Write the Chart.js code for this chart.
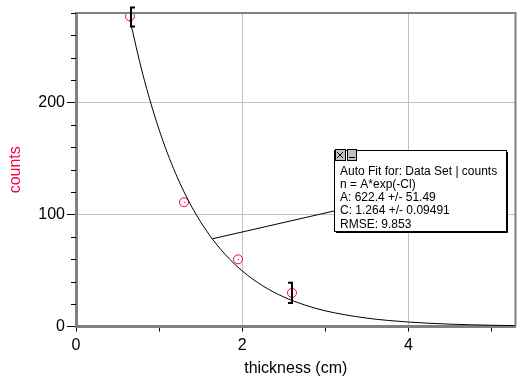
<!DOCTYPE html>
<html>
<head>
<meta charset="utf-8">
<script src="https://cdn.jsdelivr.net/npm/chart.js@4.4.0/dist/chart.umd.min.js"></script>
<style>
  html, body { margin: 0; padding: 0; background: #fff; }
</style>
</head>
<body>
<canvas id="counts" width="521" height="380"></canvas>
<script>
// measured points
const thickness = [0.65, 1.3, 1.95, 2.6];
const counts = [277, 111, 60, 30];

// fit curve
const fitX = [0.65, 0.8, 1.0, 1.2, 1.4, 1.6, 1.8, 2.0, 2.25, 2.5, 2.75, 3.0, 3.5, 4.0, 4.5, 5.0, 5.29];
const fitY = [273.7, 226.4, 175.8, 136.5, 106.0, 82.4, 64.0, 49.7, 36.2, 26.4, 19.3, 14.0, 7.5, 4.0, 2.1, 1.1, 0.8];

// fit range brackets
const rangeX = [0.65, 2.6];
const rangeLow = [268, 21];
const rangeHigh = [285, 39];
const rangeSide = [1, -1];

const xTicks = [0, 1, 2, 3, 4, 5];
const xLabels = [0, 2, 4];
const yTicks = [0, 20, 40, 60, 80, 100, 120, 140, 160, 180, 200, 220, 240, 260, 280];
const yLabels = [0, 100, 200];

const fitText = [
  "Auto Fit for: Data Set | counts",
  "n = A*exp(-Cl)",
  "A: 622.4 +/- 51.49",
  "C: 1.264 +/- 0.09491",
  "RMSE: 9.853"
];
const leaderPoint = [1.64, 78.3];

const FONT = '"Liberation Sans", Arial, sans-serif';
const RED = '#ff0040';

const extras = {
  id: 'extras',
  afterDatasetsDraw(chart) {
    const { ctx, chartArea: a, scales: { x, y } } = chart;
    ctx.save();

    // top + right frame
    ctx.strokeStyle = '#808080';
    ctx.lineWidth = 2;
    ctx.beginPath();
    ctx.moveTo(a.left, a.top);
    ctx.lineTo(a.right, a.top);
    ctx.lineTo(a.right, a.bottom);
    ctx.stroke();

    // short minor ticks on y
    ctx.strokeStyle = '#000';
    ctx.lineWidth = 1;
    yTicks.forEach(v => {
      if (yLabels.includes(v)) return;
      const py = Math.round(y.getPixelForValue(v)) + 0.5;
      ctx.beginPath();
      ctx.moveTo(a.left - 5, py);
      ctx.lineTo(a.left, py);
      ctx.stroke();
    });

    // dots in the middle of the circles
    ctx.fillStyle = RED;
    thickness.forEach((v, i) => {
      ctx.fillRect(Math.round(x.getPixelForValue(v)), Math.round(y.getPixelForValue(counts[i])), 1, 1);
    });

    // range brackets
    ctx.strokeStyle = '#000';
    ctx.lineWidth = 2;
    rangeX.forEach((v, i) => {
      const px = Math.round(x.getPixelForValue(v)) + (rangeSide[i] > 0 ? 1 : 0);
      const y1 = y.getPixelForValue(rangeHigh[i]);
      const y2 = y.getPixelForValue(rangeLow[i]);
      const s = 4 * rangeSide[i];
      ctx.beginPath();
      ctx.moveTo(px + s, y1);
      ctx.lineTo(px, y1);
      ctx.lineTo(px, y2);
      ctx.lineTo(px + s, y2);
      ctx.stroke();
    });

    // fit info box
    const bx = 334, by = 150, bw = 172, bh = 81;
    ctx.lineWidth = 1;
    ctx.beginPath();
    ctx.moveTo(x.getPixelForValue(leaderPoint[0]), y.getPixelForValue(leaderPoint[1]));
    ctx.lineTo(bx, 211);
    ctx.stroke();

    ctx.fillStyle = '#fff';
    ctx.fillRect(bx, by, bw, bh);
    ctx.strokeRect(bx + 0.5, by + 0.5, bw, bh);
    ctx.beginPath();
    ctx.moveTo(bx + bw + 1.5, by + 2);
    ctx.lineTo(bx + bw + 1.5, by + bh + 1.5);
    ctx.lineTo(bx + 2, by + bh + 1.5);
    ctx.stroke();

    // close / minimise buttons
    ctx.fillStyle = '#c0c0c0';
    ctx.fillRect(335, 149, 10, 11);
    ctx.strokeRect(335.5, 149.5, 10, 11);
    ctx.fillRect(347, 149, 9, 11);
    ctx.strokeRect(347.5, 149.5, 9, 11);
    ctx.beginPath();
    ctx.moveTo(337, 152); ctx.lineTo(343, 158);
    ctx.moveTo(343, 152); ctx.lineTo(337, 158);
    ctx.moveTo(349, 157.5); ctx.lineTo(355, 157.5);
    ctx.stroke();

    ctx.fillStyle = '#000';
    ctx.font = '12px ' + FONT;
    ctx.textBaseline = 'alphabetic';
    ctx.textAlign = 'left';
    fitText.forEach((t, i) => ctx.fillText(t, 340, 174.5 + i * 13.3));

    ctx.restore();
  }
};

new Chart(document.getElementById('counts'), {
  type: 'scatter',
  data: {
    datasets: [
      {
        data: fitX.map((v, i) => ({ x: v, y: fitY[i] })),
        showLine: true,
        borderColor: '#000',
        borderWidth: 1,
        pointRadius: 0,
        cubicInterpolationMode: 'monotone',
        fill: false
      },
      {
        data: thickness.map((v, i) => ({ x: v, y: counts[i] })),
        showLine: false,
        borderColor: RED,
        backgroundColor: 'rgba(0,0,0,0)',
        borderWidth: 1,
        pointRadius: 4.5
      }
    ]
  },
  options: {
    responsive: false,
    animation: false,
    layout: { padding: { top: 13, right: 5, left: 0, bottom: 0 } },
    plugins: { legend: { display: false }, tooltip: { enabled: false } },
    scales: {
      x: {
        type: 'linear',
        min: 0,
        max: 5.29,
        afterBuildTicks: s => { s.ticks = xTicks.map(v => ({ value: v })); },
        afterFit: s => { s.height = 53.5; },
        ticks: {
          callback: v => xLabels.includes(v) ? String(v) : '',
          color: '#000',
          font: { family: FONT, size: 16 },
          padding: 4,
          maxRotation: 0
        },
        grid: {
          color: c => c.tick && (c.tick.value === 2 || c.tick.value === 4) ? '#c0c0c0' : 'rgba(0,0,0,0)',
          tickColor: '#000',
          tickLength: 5
        },
        border: { color: '#808080', width: 3 },
        title: {
          display: true,
          text: 'thickness (cm)',
          color: '#000',
          font: { family: FONT, size: 16 },
          padding: { top: 0, bottom: 2 }
        }
      },
      y: {
        type: 'linear',
        min: 0,
        max: 280,
        afterBuildTicks: s => { s.ticks = yTicks.map(v => ({ value: v })); },
        afterFit: s => { s.width = 76; },
        ticks: {
          callback: v => yLabels.includes(v) ? String(v) : '',
          color: '#000',
          font: { family: FONT, size: 16 },
          padding: 2
        },
        grid: {
          color: c => c.tick && (c.tick.value === 100 || c.tick.value === 200) ? '#c0c0c0' : 'rgba(0,0,0,0)',
          tickColor: c => c.tick && yLabels.includes(c.tick.value) ? '#000' : 'rgba(0,0,0,0)',
          tickLength: 9
        },
        border: { color: '#808080', width: 3 },
        title: {
          display: true,
          text: 'counts',
          color: RED,
          font: { family: FONT, size: 16 },
          padding: { top: 6, bottom: 0 }
        }
      }
    }
  },
  plugins: [extras]
});
</script>
</body>
</html>
